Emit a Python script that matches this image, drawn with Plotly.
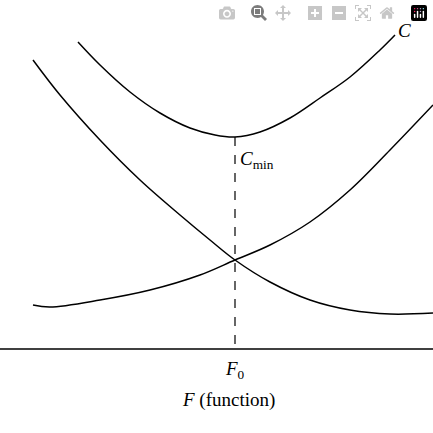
import plotly.graph_objects as go

# curve points (x right, y down, pixel-like units)
dec_x = [33, 60, 100, 140, 180, 210, 235, 270, 310, 350, 390, 433]
dec_y = [60, 95, 140, 180, 215, 240, 260, 282, 300, 310, 314, 313]
inc_x = [33, 50, 100, 150, 200, 235, 270, 310, 350, 390, 433]
inc_y = [305, 307, 300, 290, 275, 260, 245, 222, 190, 150, 105]
tot_x = [78, 100, 130, 160, 190, 215, 235, 260, 290, 320, 350, 380, 395]
tot_y = [42, 65, 92, 113, 128, 135, 137, 132, 118, 98, 77, 50, 35]
f0 = 235
axis_y = 349

line = dict(color="black", width=1.5, shape="spline")
fig = go.Figure()
fig.add_trace(go.Scatter(x=dec_x, y=dec_y, mode="lines", line=line))
fig.add_trace(go.Scatter(x=inc_x, y=inc_y, mode="lines", line=line))
fig.add_trace(go.Scatter(x=tot_x, y=tot_y, mode="lines", line=line))
fig.add_trace(go.Scatter(x=[f0, f0], y=[137, axis_y], mode="lines",
                         line=dict(color="black", width=1.2, dash="dash")))
fig.add_trace(go.Scatter(x=[0, 433], y=[axis_y, axis_y], mode="lines",
                         line=dict(color="black", width=1.5)))

font = dict(family="Liberation Serif", size=19, color="black")
fig.add_annotation(x=404, y=30, text="<i>C</i>", showarrow=False, font=font)
fig.add_annotation(x=238, y=160, text="<i>C</i><sub>min</sub>", showarrow=False,
                   xanchor="left", font=font)
fig.add_annotation(x=f0, y=370, text="<i>F</i><sub>0</sub>", showarrow=False, font=font)
fig.add_annotation(x=228, y=400, text="<i>F</i> (function)", showarrow=False, font=font)

fig.update_layout(width=433, height=433, margin=dict(l=0, r=0, t=0, b=0),
                  showlegend=False, plot_bgcolor="white", paper_bgcolor="white",
                  xaxis=dict(range=[0, 433], visible=False),
                  yaxis=dict(range=[433, 0], visible=False))
fig.write_html("out.html", post_script="document.body.style.margin='0';")
